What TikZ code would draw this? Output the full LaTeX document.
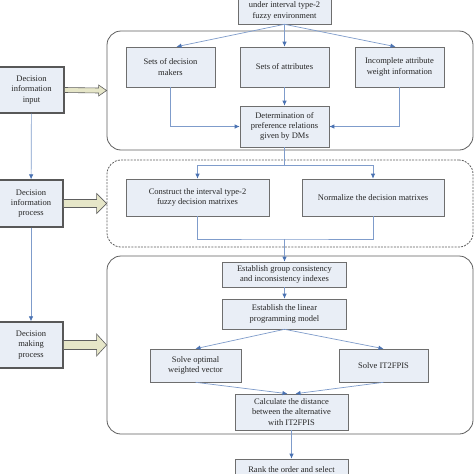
\documentclass[tikz,border=0pt]{standalone}
\usepackage{fontspec}
\setmainfont{Liberation Serif}
\usetikzlibrary{arrows.meta,positioning,calc}
\definecolor{boxfill}{HTML}{E9EEF6}
\definecolor{boxline}{HTML}{6E6E6E}
\definecolor{connline}{HTML}{7F9CCB}
\definecolor{conntip}{HTML}{4A72B2}
\definecolor{fatfill}{HTML}{E6E6C8}
\definecolor{panelline}{HTML}{5E5E5E}
% hollow block arrow: from, to, half shaft, half head, head length
\newcommand{\fatarr}[5]{\draw[fat] ($(#1)+(0,-#3)$) -- ($(#2)+(-#5,-#3)$) -- ($(#2)+(-#5,-#4)$) -- (#2) -- ($(#2)+(-#5,#4)$) -- ($(#2)+(-#5,#3)$) -- ($(#1)+(0,#3)$) -- cycle;}
\begin{document}
\begin{tikzpicture}[x=1pt,y=-1pt,>={Latex[length=5pt,width=4.5pt,color=conntip]},
every node/.style={font=\fontsize{8.5}{10.3}\selectfont,align=center,text=black!85},
box/.style={draw=boxline,fill=boxfill,line width=.6pt,inner sep=1pt},
side/.style={draw=boxline!80!black,fill=boxfill,line width=1.3pt,inner sep=1pt},
panel/.style={draw=panelline,line width=.8pt,rounded corners=14pt,fill=white,minimum width=366pt},
conn/.style={draw=connline,line width=.7pt},
fat/.style={draw=panelline,fill=fatfill,line width=.6pt,line join=miter}]
\useasboundingbox (0,0) rectangle (474,474);
% three stages
\node[panel,minimum height=119pt] (p1) at (290,90.5) {};
\node[panel,dash pattern=on 2pt off 1.2pt,minimum height=87pt] (p2) at (290,203.5) {};
\node[panel,minimum height=178pt] (p3) at (290,345) {};
\node[side,minimum width=65pt,minimum height=46pt] (input) at (31.5,90) {Decision\\information\\input};
\node[side,minimum width=64pt,minimum height=47pt] (process) at (31,203.5) {Decision\\information\\process};
\node[side,minimum width=64pt,minimum height=46pt] (making) at (31,345) {Decision\\making\\process};
\draw[conn,->] (input)--(process);\draw[conn,->] (process)--(making);
\fatarr{input.east}{p1.west}{2.5}{5.5}{8}
\fatarr{process.east}{p2.west}{4}{10}{10}
\fatarr{making.east}{p3.west}{4.5}{11}{10}
% information input
\node[box,minimum width=93pt,minimum height=26pt] (env) at (284.5,11) {under interval type-2\\fuzzy environment};
\node[box,minimum width=89pt,minimum height=40pt] (makers) at (170.5,67) {Sets of decision\\makers};
\node[box,minimum width=89pt,minimum height=40pt] (attr) at (284.5,67) {Sets of attributes};
\node[box,minimum width=89pt,minimum height=40pt] (weight) at (399.5,67) {Incomplete attribute\\weight information};
\node[box,minimum width=89pt,minimum height=41pt] (prefer) at (284.5,126.5) {Determination of\\preference relations\\given by DMs};
\draw[conn,->] (env.south)--($(makers.north)+(6,0)$);\draw[conn,->] (env.south)--(attr);\draw[conn,->] (env.south)--($(weight.north)+(-4,0)$);
\draw[conn,->] (attr)--(prefer);\draw[conn,->] (makers.south) |- (prefer.west);\draw[conn,->] (weight.south) |- (prefer.east);
% information process
\node[box,minimum width=143pt,minimum height=37pt] (construct) at (197.5,197.5) {Construct the interval type-2\\fuzzy decision matrixes};
\node[box,minimum width=142pt,minimum height=37pt] (normal) at (373,197.5) {Normalize the decision matrixes};
\draw[conn] (prefer.south)--++(0,18) coordinate (split);
\draw[conn,->] (split) -| (construct.north);\draw[conn,->] (split) -| (normal.north);
\coordinate (merge) at (284.5,239);
\draw[conn] (construct.south) |- (merge) -| (normal.south);
% decision making
\node[box,minimum width=124pt,minimum height=25pt] (group) at (284.5,274.5) {Establish group consistency\\and inconsistency indexes};
\node[box,minimum width=124pt,minimum height=30pt] (linear) at (284.5,314) {Establish the linear\\programming model};
\node[box,minimum width=91pt,minimum height=33pt] (optimal) at (195.5,365.5) {Solve optimal\\weighted vector};
\node[box,minimum width=89pt,minimum height=33pt] (pis) at (383.5,365.5) {Solve IT2FPIS};
\node[box,minimum width=113pt,minimum height=36pt] (dist) at (291.5,412) {Calculate the distance\\between the alternative\\with IT2FPIS};
\node[box,minimum width=113pt,minimum height=22pt] (rank) at (291.5,470) {Rank the order and select};
\draw[conn,->] (merge)--(group);\draw[conn,->] (group)--(linear);
\draw[conn,->] (linear.south)--(optimal.north);\draw[conn,->] (linear.south)--(pis.north);
\draw[conn,->] (optimal.south)--($(dist.north)+(-4,0)$);\draw[conn,->] (pis.south)--($(dist.north)+(4,0)$);
\draw[conn,->] (dist)--(rank);
\end{tikzpicture}
\end{document}
